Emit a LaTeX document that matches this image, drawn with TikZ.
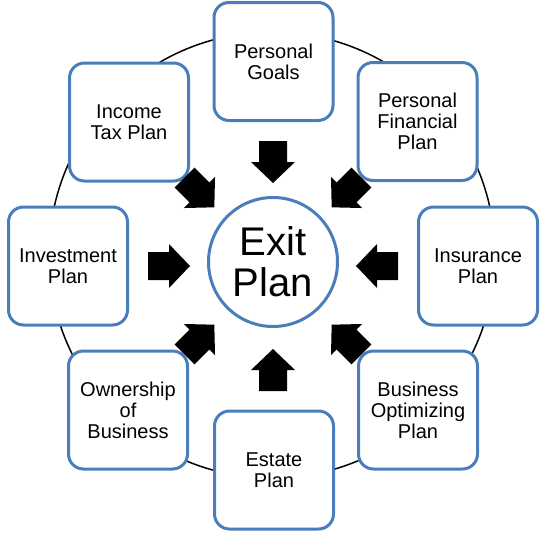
\documentclass[tikz,border=0pt]{standalone}
\usepackage{fontspec}
\setmainfont{Liberation Sans}
\definecolor{boxblue}{HTML}{4A7EBB}
\begin{document}
\begin{tikzpicture}[x=1pt,y=-1pt,
  planbox/.style={draw=boxblue, line width=3pt, fill=white, rounded corners=15pt,
    minimum width=119pt, minimum height=118pt, align=center, inner sep=0pt,
    font=\fontsize{20}{21}\selectfont},
  hubcircle/.style={circle, draw=boxblue, line width=3pt, fill=white, minimum size=129pt,
    inner sep=0pt, align=center, font=\fontsize{40}{41}\selectfont},
  ring/.style={draw=black, line width=1.5pt},
  blockarrow/.style={fill=black}]
\useasboundingbox (0,0) rectangle (546,533);
\coordinate (hub) at (273,266);
\coordinate (ringc) at (272,255);
\draw[ring] (ringc) circle[radius=223];
\node[planbox] (goals)    at (273.5,61.5) {Personal\\Goals};
\node[planbox] (finance)  at (417.5,121.5) {Personal\\Financial\\Plan};
\node[planbox] (insur)    at (478,266) {Insurance\\Plan};
\node[planbox] (busopt)   at (418,410) {Business\\Optimizing\\Plan};
\node[planbox] (estate)   at (274,470) {Estate\\Plan};
\node[planbox] (owner)    at (128,410) {Ownership\\of\\Business};
\node[planbox] (invest)   at (68,266) {Investment\\Plan};
\node[planbox] (incometax) at (129,122) {Income\\Tax Plan};
\node[hubcircle] (exit) at (273,262) {Exit\\Plan};
\foreach \a in {0,45,...,315} {
  \fill[blockarrow, shift={(273,266)}, rotate=\a]
    (125,-14) -- (104,-14) -- (104,-22) -- (83,0) -- (104,22) -- (104,14) -- (125,14) -- cycle;
}
\end{tikzpicture}
\end{document}
